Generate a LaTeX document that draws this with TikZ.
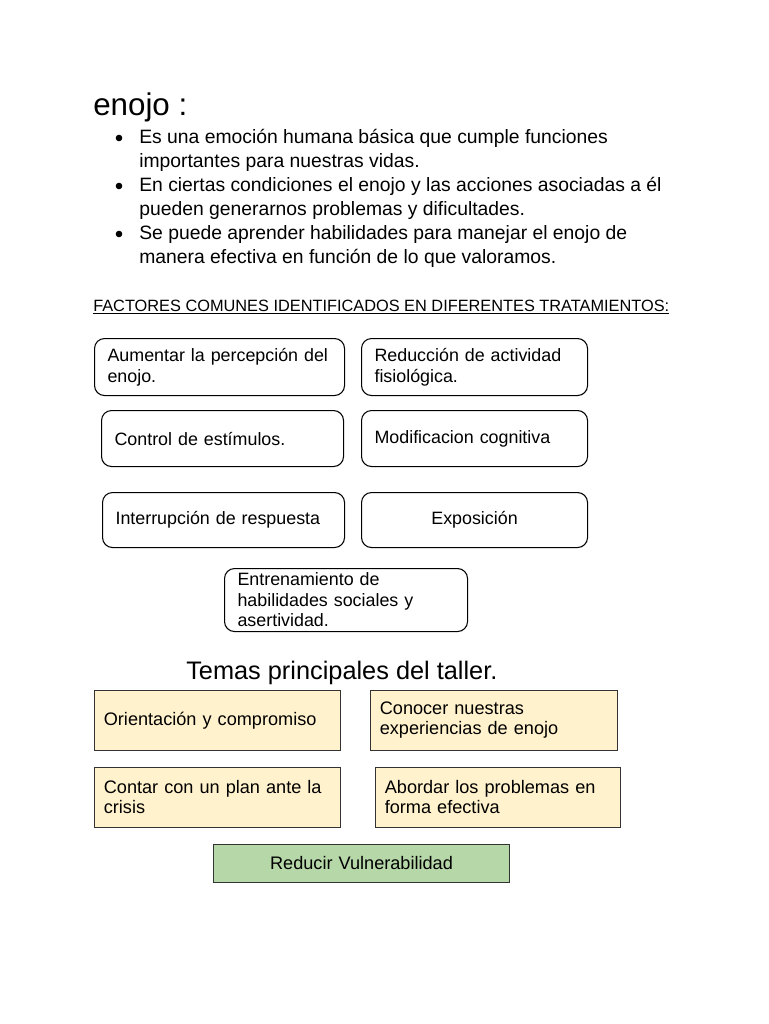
\documentclass[tikz,border=0pt]{standalone}
\usepackage{fontspec}
\setmainfont{Liberation Sans}
\usetikzlibrary{positioning}
\definecolor{paleyellow}{HTML}{FFF2CC}
\definecolor{palegreen}{HTML}{B6D7A8}
\tikzset{
  bullettext/.style={anchor=base west,align=left,inner sep=0pt,
    font=\fontsize{14.5}{18}\selectfont},
  factor/.style={draw,line width=0.8pt,rounded corners=7.5pt,anchor=north west,
    align=left,inner xsep=9.75pt,inner ysep=0pt,font=\fontsize{13.4}{15.75}\selectfont},
  theme/.style={draw=black!80,fill=paleyellow,line width=0.75pt,anchor=north west,
    align=left,inner xsep=7pt,inner ysep=0pt,font=\fontsize{13.6}{15}\selectfont},
}
\begin{document}
\begin{tikzpicture}[x=0.75pt,y=-0.75pt]
\useasboundingbox (0,0) rectangle (768,1024);
% definicion
\node[anchor=base west,inner sep=0pt,font=\fontsize{23.5}{27}\selectfont] (title) at (93,115) {enojo :};
\foreach \y in {138,186,234}
{\fill (119,\y) circle (3.3);}
% base = ultima linea de cada punto
\node[bullettext] (item1) at (139,167)
 {Es una emoción humana básica que cumple funciones\\importantes para nuestras vidas.};
\node[bullettext] (item2) at (139,215)
 {En ciertas condiciones el enojo y las acciones asociadas a él\\pueden generarnos problemas y dificultades.};
\node[bullettext] (item3) at (139,263)
 {Se puede aprender habilidades para manejar el enojo de\\manera efectiva en función de lo que valoramos.};
% factores comunes
\node[anchor=base west,inner sep=0pt,font=\fontsize{12.25}{14}\selectfont] (factores) at (93,311)
 {\underline{FACTORES COMUNES IDENTIFICADOS EN DIFERENTES TRATAMIENTOS:}};
\node[factor,text width=168pt,minimum height=42.75pt] (f1) at (94,338)
 {Aumentar la percepción del\\enojo.};
\node[factor,text width=150pt,minimum height=42.75pt] (f2) at (361,338)
 {Reducción de actividad\\fisiológica.};
\node[factor,text width=162pt,minimum height=42pt] (f3) at (101,410)
 {Control de estímulos.};
\node[factor,text width=150pt,minimum height=42pt] (f4) at (361,410)
 {Modificacion cognitiva};
\node[factor,text width=162pt,minimum height=41.25pt] (f5) at (102,492)
 {Interrupción de respuesta};
\node[factor,text width=150pt,minimum height=41.25pt,align=center] (f6) at (361,492)
 {Exposición};
\node[factor,text width=162.75pt,minimum height=47.25pt,font=\fontsize{13.4}{15.4}\selectfont] (f7) at (224,568)
 {Entrenamiento de\\habilidades sociales y\\asertividad.};
% temas del taller
\node[anchor=base west,inner sep=0pt,font=\fontsize{19}{22}\selectfont] (temas) at (186,679)
 {Temas principales del taller.};
\node[theme,text width=170.5pt,minimum height=45pt] (t1) at (94,690)
 {Orientación y compromiso};
\node[theme,text width=171.25pt,minimum height=45pt] (t2) at (370,690)
 {Conocer nuestras\\experiencias de enojo};
\node[theme,text width=170.5pt,minimum height=45pt] (t3) at (94,767)
 {Contar con un plan ante la\\crisis};
\node[theme,text width=169.75pt,minimum height=45pt] (t4) at (375,767)
 {Abordar los problemas en\\forma efectiva};
\node[theme,fill=palegreen,text width=208pt,minimum height=28.5pt,align=center] (reducir) at (213,844)
 {Reducir Vulnerabilidad};
\end{tikzpicture}
\end{document}
